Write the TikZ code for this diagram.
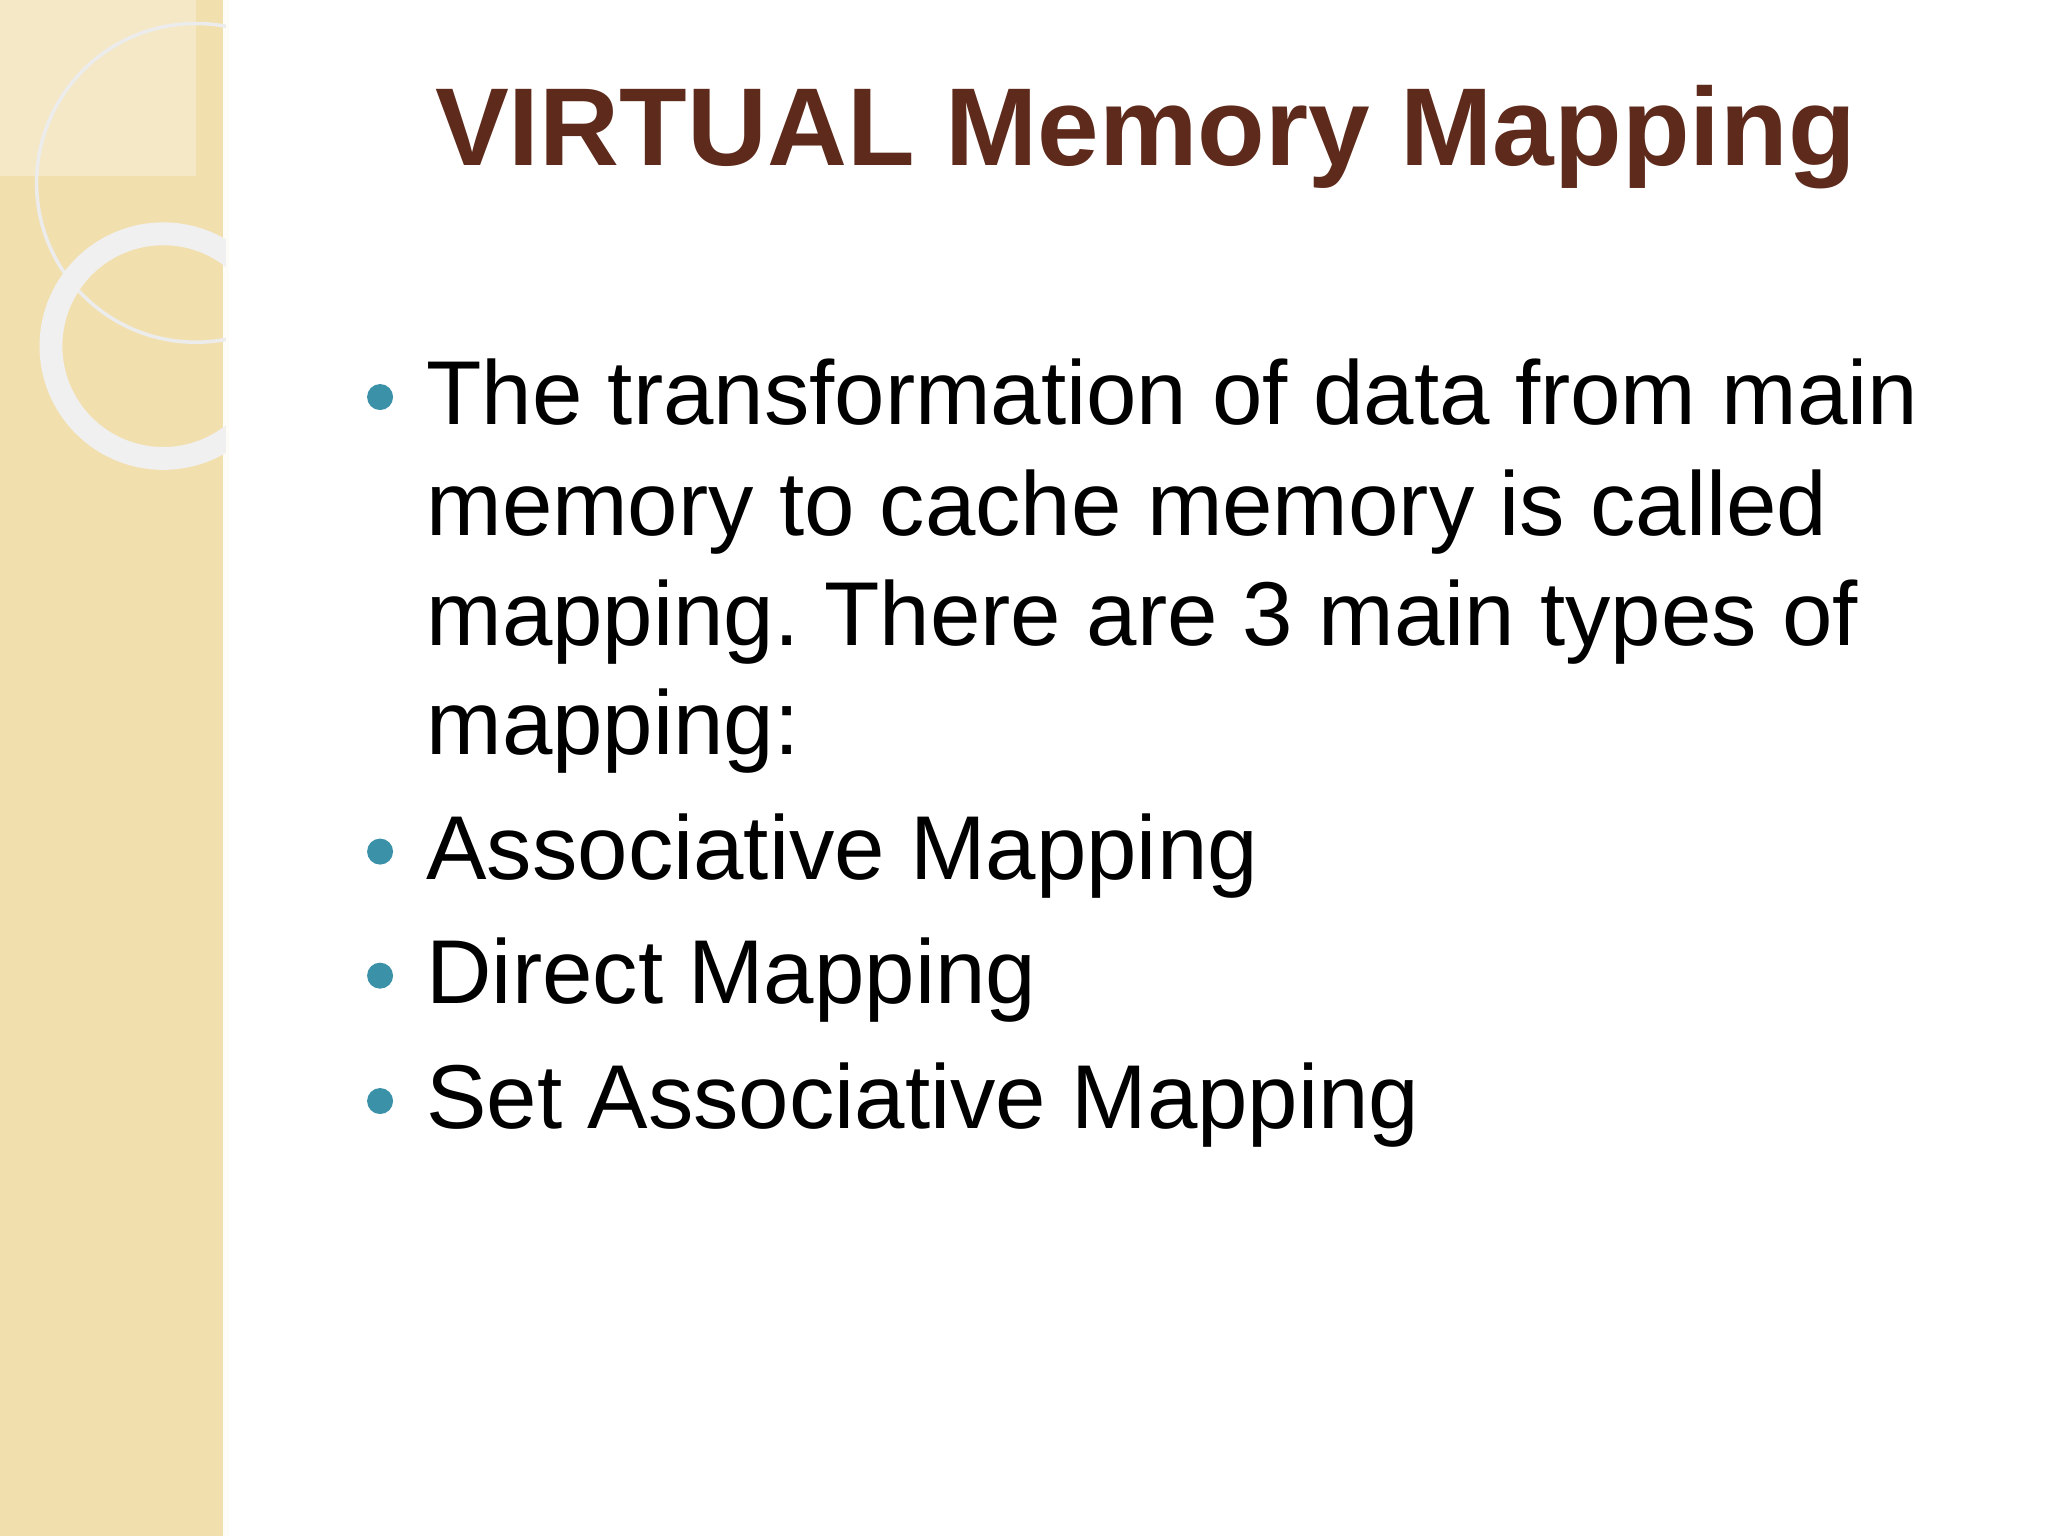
\documentclass[tikz,border=0pt]{standalone}
\usepackage{fontspec}
\setmainfont{Liberation Sans}
\frenchspacing
\definecolor{beige}{HTML}{F2DFAE}
\definecolor{titlec}{HTML}{5E2A1C}
\definecolor{bulc}{HTML}{3A91A8}
\begin{document}
\begin{tikzpicture}[x=0.013061cm,y=-0.013061cm,
  body/.style={anchor=base west,inner sep=0pt,font=\fontsize{25.8}{30}\selectfont},
  bul/.style={circle,fill=bulc,inner sep=0pt,minimum size=0.26cm}]
\useasboundingbox (0,0) rectangle (1568,1176);
\fill[white] (0,0) rectangle (1568,1176);
\fill[beige] (0,0) rectangle (173,1176);
\fill[white,opacity=0.3] (0,0) rectangle (150,135);
\draw[white!90!beige,line width=1.5pt] (173,0) -- (173,1176);
\begin{scope}
\clip (0,0) rectangle (173,1176);
\draw[white!85!gray,line width=1pt] (150,140) circle (122);
\draw[white!88!gray,line width=6.5pt] (125,265) circle (86);
\end{scope}
\node[anchor=base,inner sep=0pt,text=titlec,font=\bfseries\fontsize{31.5}{38}\selectfont] (title) at (877,127) {VIRTUAL Memory Mapping};
\node[body] (l1) at (326,325) {The transformation of data from main};
\node[body] (l2) at (326,410) {memory to cache memory is called};
\node[body] (l3) at (326,494) {mapping. There are 3 main types of};
\node[body] (l4) at (326,578) {mapping:};
\node[body] (l5) at (326,673) {Associative Mapping};
\node[body] (l6) at (326,768) {Direct Mapping};
\node[body] (l7) at (326,864) {Set Associative Mapping};
\node[bul] (b1) at (291,304) {};
\node[bul] (b2) at (291,652) {};
\node[bul] (b3) at (291,747) {};
\node[bul] (b4) at (291,843) {};
\end{tikzpicture}
\end{document}
